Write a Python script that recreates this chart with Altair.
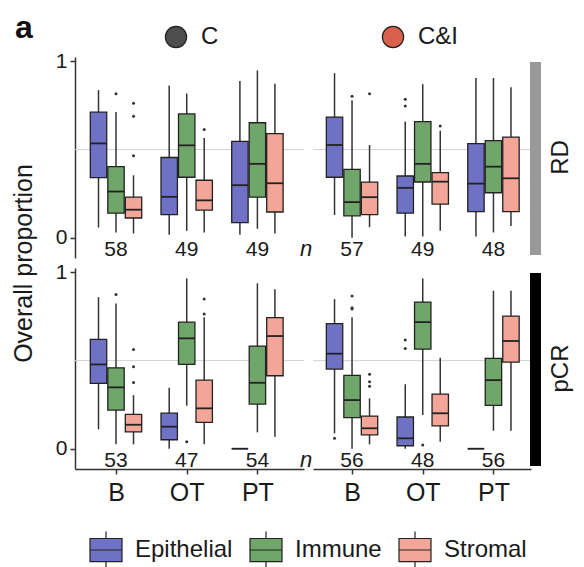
import json
import altair as alt
import pandas as pd

groups = ["B", "OT", "PT"]
cell_types = ["Epithelial", "Immune", "Stromal"]
treatments = ["C", "C&I"]
responses = ["RD", "pCR"]

cell_colors = ["#6f72c4", "#71a66b", "#f3a698"]
treat_colors = ["#4d4d4d", "#d9604d"]
strip_colors = {"RD": "#999999", "pCR": "#000000"}

# order: B-Epi, B-Imm, B-Str, OT-Epi, OT-Imm, OT-Str, PT-Epi, PT-Imm, PT-Str
c_rd_lo = [0.058, 0.030, 0.024, 0.017, 0.039, 0.030, 0.017, 0.051, 0.024]
c_rd_q1 = [0.341, 0.139, 0.112, 0.131, 0.343, 0.157, 0.086, 0.230, 0.146]
c_rd_md = [0.535, 0.262, 0.159, 0.232, 0.524, 0.212, 0.298, 0.419, 0.309]
c_rd_q3 = [0.712, 0.403, 0.230, 0.455, 0.702, 0.326, 0.547, 0.652, 0.590]
c_rd_hi = [0.837, 0.713, 0.354, 0.863, 0.818, 0.566, 0.889, 0.949, 0.873]

ci_rd_lo = [0.129, 0.000, 0.060, 0.007, 0.007, 0.039, 0.007, 0.030, 0.067]
ci_rd_q1 = [0.343, 0.124, 0.131, 0.139, 0.316, 0.191, 0.148, 0.255, 0.148]
ci_rd_md = [0.526, 0.202, 0.230, 0.283, 0.419, 0.318, 0.307, 0.403, 0.337]
ci_rd_q3 = [0.684, 0.388, 0.315, 0.350, 0.659, 0.369, 0.534, 0.551, 0.571]
ci_rd_hi = [0.933, 0.779, 0.526, 0.659, 0.871, 0.607, 0.906, 0.906, 0.854]

c_pcr_lo = [0.110, 0.025, 0.025, 0.000, 0.244, 0.025, 0.000, 0.093, 0.068]
c_pcr_q1 = [0.371, 0.219, 0.095, 0.051, 0.478, 0.150, 0.000, 0.253, 0.414]
c_pcr_md = [0.478, 0.348, 0.136, 0.125, 0.626, 0.229, 0.000, 0.374, 0.639]
c_pcr_q3 = [0.620, 0.459, 0.195, 0.202, 0.718, 0.389, 0.000, 0.582, 0.743]
c_pcr_hi = [0.860, 0.824, 0.304, 0.346, 0.966, 0.745, 0.000, 0.938, 0.904]

ci_pcr_lo = [0.087, 0.000, 0.025, 0.000, 0.191, 0.040, 0.000, 0.102, 0.102]
ci_pcr_q1 = [0.452, 0.176, 0.079, 0.017, 0.565, 0.130, 0.000, 0.246, 0.491]
ci_pcr_md = [0.539, 0.276, 0.116, 0.059, 0.718, 0.201, 0.000, 0.389, 0.611]
ci_pcr_q3 = [0.709, 0.416, 0.185, 0.180, 0.832, 0.310, 0.000, 0.512, 0.752]
ci_pcr_hi = [0.849, 0.745, 0.286, 0.365, 0.966, 0.516, 0.000, 0.896, 0.896]

# outliers: (group, cell type, value)
c_rd_out = [("B", "Immune", 0.816), ("B", "Stromal", 0.762), ("B", "Stromal", 0.689),
            ("B", "Stromal", 0.465), ("OT", "Stromal", 0.614)]
ci_rd_out = [("B", "Immune", 0.803), ("B", "Stromal", 0.816), ("OT", "Epithelial", 0.785),
             ("OT", "Epithelial", 0.747), ("OT", "Stromal", 0.633)]
c_pcr_out = [("B", "Immune", 0.875), ("B", "Stromal", 0.563), ("B", "Stromal", 0.465),
             ("B", "Stromal", 0.376), ("OT", "Immune", 0.040), ("OT", "Stromal", 0.849),
             ("OT", "Stromal", 0.764)]
ci_pcr_out = [("B", "Epithelial", 0.059), ("B", "Immune", 0.866), ("B", "Immune", 0.799),
              ("B", "Immune", 0.792), ("B", "Stromal", 0.422), ("B", "Stromal", 0.380),
              ("B", "Stromal", 0.355), ("OT", "Epithelial", 0.616), ("OT", "Epithelial", 0.569),
              ("OT", "Immune", 0.021)]

n_c_rd = [58, 49, 49]
n_ci_rd = [57, 49, 48]
n_c_pcr = [53, 47, 54]
n_ci_pcr = [56, 48, 56]

stats = {
    ("C", "RD"): (c_rd_lo, c_rd_q1, c_rd_md, c_rd_q3, c_rd_hi, c_rd_out, n_c_rd),
    ("C&I", "RD"): (ci_rd_lo, ci_rd_q1, ci_rd_md, ci_rd_q3, ci_rd_hi, ci_rd_out, n_ci_rd),
    ("C", "pCR"): (c_pcr_lo, c_pcr_q1, c_pcr_md, c_pcr_q3, c_pcr_hi, c_pcr_out, n_c_pcr),
    ("C&I", "pCR"): (ci_pcr_lo, ci_pcr_q1, ci_pcr_md, ci_pcr_q3, ci_pcr_hi, ci_pcr_out, n_ci_pcr),
}

FONT = "Liberation Sans"
GI = f"indexof({json.dumps(groups)}, datum.group) + 1"
CI = f"indexof({json.dumps(cell_types)}, datum.celltype) - 1"
LABEL_EXPR = f"{json.dumps(groups)}[datum.value - 1]"
OFF = 0.2475
HALF = 0.116
Y_DOM = [-0.115, 1.025]
PANEL_H = 201
W = {"C": 229, "C&I": 218}
XDOM = {"C": [0.42, 3.659], "C&I": [0.448, 3.531]}
HDR_X = {"C": 101, "C&I": 80}

BOX_PATH = ("M-1,-0.72L1,-0.72L1,0.72L-1,0.72Z M-1,0L1,0 "
            "M0,-0.72L0,-1.16 M0,0.72L0,1.16")

FILL = alt.Fill(
    "celltype:N",
    scale=alt.Scale(domain=cell_types, range=cell_colors),
    legend=alt.Legend(
        orient="none", legendX=14, legendY=476, direction="horizontal", columns=3,
        title=None, symbolType=BOX_PATH, symbolSize=1024, symbolStrokeColor="#222",
        symbolStrokeWidth=1.2, labelFontSize=24, labelOffset=12, columnPadding=14,
        labelColor="#1a1a1a", symbolOpacity=1, labelFont=FONT,
    ),
)
TCOLOR = alt.Color("treatment:N", scale=alt.Scale(domain=treatments, range=treat_colors),
                   legend=None)


def with_pos(ch):
    return ch.transform_calculate(gi=GI, ci=CI).transform_calculate(
        xc=f"datum.gi + datum.ci * {OFF}",
        xl=f"datum.gi + datum.ci * {OFF} - {HALF}",
        xr=f"datum.gi + datum.ci * {OFF} + {HALF}",
    )


def panel(t, r):
    lo, q1, md, q3, hi, outs, ns = stats[(t, r)]
    rows = []
    k = 0
    for g in groups:
        for c in cell_types:
            rows.append(dict(group=g, celltype=c, lo=lo[k], q1=q1[k], med=md[k], q3=q3[k], hi=hi[k]))
            k += 1
    box_df = pd.DataFrame(rows)
    out_df = pd.DataFrame(outs, columns=["group", "celltype", "value"])
    n_df = pd.DataFrame({"group": groups, "n": ns})

    left = t == treatments[0]
    top = r == responses[0]
    bottom = r == responses[-1]
    xs = alt.Scale(domain=XDOM[t], nice=False, zero=False)
    ys = alt.Scale(domain=Y_DOM, nice=False, zero=False)
    if bottom:
        xaxis = alt.Axis(values=[1, 2, 3], labelExpr=LABEL_EXPR, title=None, grid=False,
                         tickSize=5, tickWidth=1.5, tickColor="#333", labelFontSize=25,
                         labelPadding=6, labelColor="#1a1a1a", domainWidth=1.5,
                         domainColor="#333", labelFont=FONT)
    else:
        xaxis = None
    if left:
        kw = dict(values=[0, 1], format="d", grid=False, tickSize=5, tickWidth=1.5,
                  tickColor="#333", labelFontSize=21, labelPadding=3, labelColor="#1a1a1a",
                  domainWidth=1.5, domainColor="#333", labelFont=FONT)
        if top:
            kw.update(title="Overall proportion", titleY=206, titleFontSize=25,
                      titleFontWeight="normal", titlePadding=19, titleColor="#1a1a1a",
                      titleFont=FONT)
        else:
            kw.update(title=None)
        yaxis = alt.Axis(**kw)
    else:
        yaxis = None

    def X(f):
        return alt.X(f"{f}:Q", scale=xs, axis=xaxis)

    def Y(f):
        return alt.Y(f"{f}:Q", scale=ys, axis=yaxis)

    ref = alt.Chart(pd.DataFrame({"ref": [0.5]})).mark_rule(
        color="#d3d3d3", strokeWidth=1).encode(y=Y("ref"))
    base = with_pos(alt.Chart(box_df))
    whisk = base.mark_rule(color="#333", strokeWidth=1.5).encode(
        x=X("xc"), y=Y("lo"), y2="hi:Q")
    box = base.mark_bar(stroke="#222", strokeWidth=1.3).encode(
        x=X("xl"), x2="xr:Q", y=Y("q1"), y2="q3:Q", fill=FILL)
    med = base.mark_rule(color="#222", strokeWidth=1.8).encode(
        x=X("xl"), x2="xr:Q", y=Y("med"))
    outl = with_pos(alt.Chart(out_df)).mark_point(
        filled=True, size=9, color="#333", opacity=1).encode(x=X("xc"), y=Y("value"))
    cnt = alt.Chart(n_df).transform_calculate(gi=GI, ny="-0.103").mark_text(
        fontSize=21, baseline="alphabetic", color="#1a1a1a", font=FONT).encode(
        x=X("gi"), y=Y("ny"), text="n:N")
    layers = [ref, whisk, box, med, outl, cnt]
    if not left:
        nlab = alt.Chart(pd.DataFrame({"label": ["n"]})).transform_calculate(
            ny="-0.103").mark_text(fontSize=22, fontStyle="italic", baseline="alphabetic",
                                   color="#1a1a1a", font=FONT).encode(
            x=alt.value(-7), y=Y("ny"), text="label:N")
        layers.append(nlab)
    if top:
        hdr_df = pd.DataFrame({"treatment": [t]})
        circ = alt.Chart(hdr_df).mark_point(filled=True, size=452, stroke="#222",
                                            strokeWidth=1.2, opacity=1).encode(
            x=alt.value(HDR_X[t]), y=alt.value(-20), color=TCOLOR)
        ctext = alt.Chart(hdr_df).mark_text(fontSize=24, align="left", baseline="middle",
                                            font=FONT, color="#1a1a1a").encode(
            x=alt.value(HDR_X[t] + 25), y=alt.value(-20), text="treatment:N")
        layers += [circ, ctext]
        if left:
            a_lab = alt.Chart(pd.DataFrame({"lab": ["a"]})).mark_text(
                fontSize=32, fontWeight="bold", align="left", baseline="alphabetic",
                font=FONT, color="#111").encode(
                x=alt.value(-60), y=alt.value(-19), text="lab:N")
            layers.append(a_lab)
    return alt.layer(*layers).properties(width=W[t], height=PANEL_H)


def strip(r):
    d = pd.DataFrame({"response": [r]})
    bar = alt.Chart(d).mark_rect(color=strip_colors[r]).encode(
        x=alt.value(-10), x2=alt.value(1), y=alt.value(5), y2=alt.value(198))
    txt = alt.Chart(d).mark_text(angle=270, fontSize=24, color="#1a1a1a", font=FONT,
                                 baseline="middle", align="center").encode(
        x=alt.value(21), y=alt.value(PANEL_H / 2), text="response:N")
    return alt.layer(bar, txt).properties(width=34, height=PANEL_H)


cells = []
for r in responses:
    cells += [panel("C", r), panel("C&I", r), strip(r)]

chart = alt.concat(*cells, columns=3, spacing={"row": 10, "column": 9},
                   bounds="flush").properties(
    padding={"left": 3, "top": 4, "right": 0, "bottom": 0}
).configure(font=FONT).configure_view(stroke=None)

chart.save("out.html", embed_options={"renderer": "svg", "actions": False})
